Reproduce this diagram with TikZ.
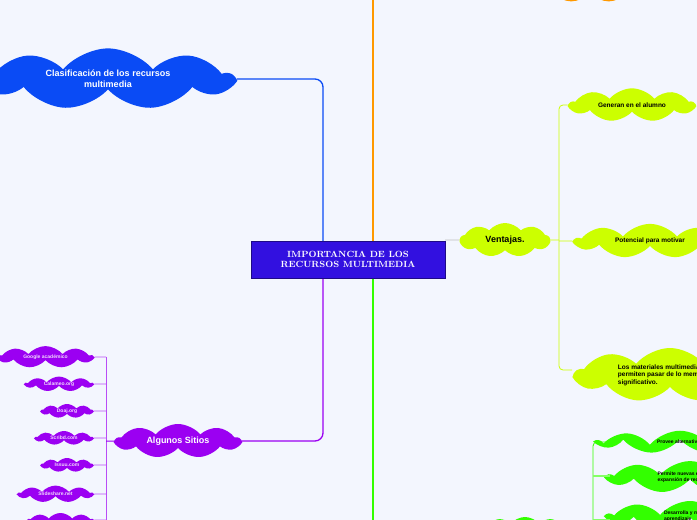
\documentclass[tikz,border=0pt]{standalone}
\usepackage{fontspec}
\setsansfont{Liberation Sans}
\usetikzlibrary{shapes.symbols}
\definecolor{bg}{HTML}{F3F6FE}
\definecolor{cen}{HTML}{3210E0}
\definecolor{blu}{HTML}{0A4BF5}
\definecolor{pur}{HTML}{9B00F2}
\definecolor{yel}{HTML}{CCFF00}
\definecolor{grn}{HTML}{33FF00}
\definecolor{org}{HTML}{FF9900}
\tikzset{
 cl/.style={cloud, cloud puffs=9, cloud puff arc=100, aspect=5, inner sep=0pt, font=\sffamily\bfseries, align=center},
 bcl/.style={cl, fill=blu, text=white, font=\sffamily\bfseries\small},
 pcl/.style={cl, fill=pur, text=white!85!pur, font=\sffamily\bfseries\fontsize{5}{6}\selectfont, minimum height=14pt},
 ycl/.style={cl, fill=yel, text=black, font=\sffamily\bfseries\fontsize{6.5}{7.5}\selectfont},
 gcl/.style={cl, fill=grn, text=black, font=\sffamily\bfseries\fontsize{5}{6}\selectfont},
 ln/.style={line width=1.3pt, rounded corners=8pt},
 sl/.style={line width=0.8pt, rounded corners=4pt}
}
\begin{document}
\begin{tikzpicture}[x=1pt,y=-1pt]
\useasboundingbox (0,0) rectangle (697,520);
\fill[bg] (0,0) rectangle (697,520);
\clip (0,0) rectangle (697,520);
\node[cl, fill=org, minimum width=110pt, minimum height=20pt] (o) at (590,-8) {};
\coordinate (otop) at (373,0);
\coordinate (gbot) at (373,520);
\draw[org, ln] (373,241) -- (otop);
\draw[grn, ln] (373,278) -- (gbot);
\node[bcl, minimum width=250pt, minimum height=50pt] (b) at (108,79) {Clasificación de los recursos\\multimedia};
\draw[blu, ln] (323,241) -- (323,79) -- (b.east);
\node[cl, fill=pur, text=white, font=\sffamily\bfseries\small, minimum width=125pt, minimum height=34pt] (a) at (178,441) {Algunos Sitios};
\draw[pur, ln] (323,278) -- (323,441) -- (a.east);
\node[ycl, font=\sffamily\bfseries\small, minimum width=90pt, minimum height=34pt] (v) at (505,240) {Ventajas.};
\draw[gray!50, line width=0.6pt] (445,240) -- (v.west);
\node[draw=cen!60!black, fill=cen, text=white, font=\bfseries\fontsize{9}{10}\selectfont, align=center, minimum width=194pt, minimum height=37pt, inner sep=2pt] (c) at (348,259.5) {IMPORTANCIA DE LOS\\RECURSOS MULTIMEDIA};
% yellow
\node[ycl, minimum width=125pt, minimum height=20pt] (y1) at (632,105) {Generan en el alumno};
\node[ycl, minimum width=150pt, minimum height=22pt] (y2) at (650,241) {Potencial para motivar};
\node[ycl, align=left, minimum width=190pt, minimum height=54pt] (y3) at (670,375) {Los materiales multimedia\\permiten pasar de lo memorístico\\significativo.};
\draw[yel, sl] (v.east) -- (559,240);
\draw[yel, sl] (y1.west) -- (559,105) -- (559,370) -- (572,370);
\draw[yel, sl] (559,241) -- (y2.west);
% green
\node[gcl, minimum width=165pt, minimum height=18pt] (g1) at (680,442) {Provee alternativas};
\node[gcl, align=left, minimum width=165pt, minimum height=30pt] (g2) at (690,477) {Permite nuevas estrategias\\expansión de recursos};
\node[gcl, align=left, minimum width=165pt, minimum height=30pt] (g3) at (690,516) {Desarrolla y mejora el\\aprendizaje};
\node[cl, fill=grn, minimum width=80pt, minimum height=18pt] (g0) at (525,526) {};
\draw[grn, sl] (606,442) -- (593,442) -- (593,520);
\draw[grn!60, line width=2pt] (593,476) -- (610,476);
\draw[grn!60, line width=2pt] (593,520) -- (610,520);
% purple children
\foreach \n/\t/\y/\w in {p1/Google académico/357/95, p2/Calameo.org/384/68, p3/Doaj.org/411/52, p4/Scribd.com/438/58, p5/Issuu.com/465/52, p6/Slideshare.net/494/75, p7/{}/520/65}{
 \node[pcl, minimum width=\w pt] (\n) at (93-\w/2,\y) {\t};
 \draw[pur!70, sl] (\n.east) -- (106,\y);
}
\draw[pur!70, line width=1pt] (106,357) -- (106,520);
\draw[pur, line width=1pt] (106,441) -- (a.west);
\end{tikzpicture}
\end{document}
